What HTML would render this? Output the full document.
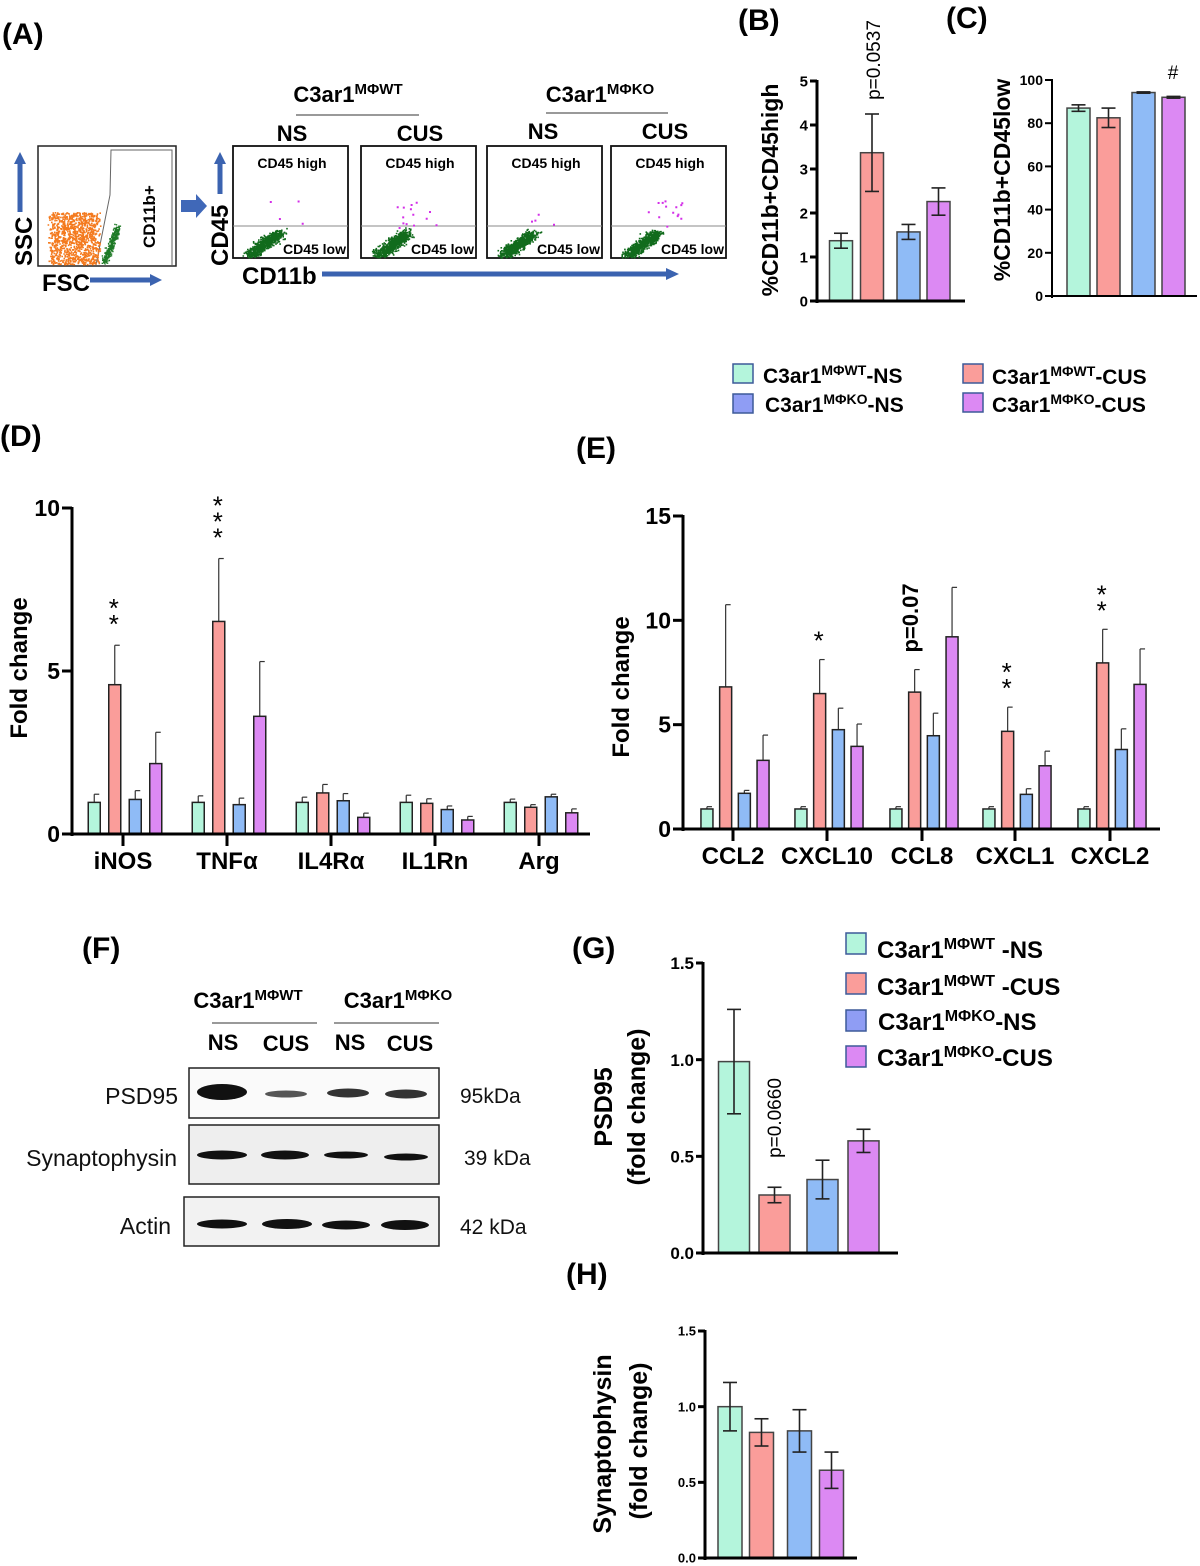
<!DOCTYPE html>
<html><head><meta charset="utf-8">
<style>
html,body{margin:0;padding:0;background:#fff;}
svg{display:block;font-family:"Liberation Sans",sans-serif;}
.b{font-weight:bold;}
</style></head>
<body>
<svg id="fig" width="1200" height="1566" viewBox="0 0 1200 1566" xmlns="http://www.w3.org/2000/svg">
<g font-weight="bold" font-size="30" fill="#000">
<text x="2" y="44">(A)</text>
<text x="738" y="30">(B)</text>
<text x="946" y="28">(C)</text>
<text x="0" y="446">(D)</text>
<text x="576" y="458">(E)</text>
<text x="82" y="958">(F)</text>
<text x="572" y="958">(G)</text>
<text x="566" y="1284">(H)</text>
</g>

<g id="panelA">
<rect x="38" y="146" width="138" height="120" fill="#fff" stroke="#222" stroke-width="1.5"/>
<polyline points="96,265 110,195 111,150 172,150 172,265" fill="none" stroke="#666" stroke-width="1"/>
<g id="orange"></g>
<g id="greenA"></g>
<text transform="translate(155,248) rotate(-90)" font-size="17" class="b">CD11b+</text>
<text transform="translate(32,266) rotate(-90)" font-size="24" class="b">SSC</text>
<line x1="20" y1="212" x2="20" y2="162" stroke="#3b63b0" stroke-width="5"/>
<polygon points="14,164 26,164 20,152" fill="#3b63b0"/>
<text x="42" y="291" font-size="24" class="b">FSC</text>
<line x1="90" y1="280" x2="152" y2="280" stroke="#3b63b0" stroke-width="5"/>
<polygon points="150,274 150,286 162,280" fill="#3b63b0"/>
<polygon points="181,200 196,200 196,194 207,206 196,218 196,212 181,212" fill="#4068b8"/>
<text transform="translate(228,266) rotate(-90)" font-size="24" class="b">CD45</text>
<line x1="220" y1="194" x2="220" y2="162" stroke="#3b63b0" stroke-width="5"/>
<polygon points="214,164 226,164 220,152" fill="#3b63b0"/>
<text x="242" y="284" font-size="24" class="b">CD11b</text>
<line x1="322" y1="274" x2="668" y2="274" stroke="#3b63b0" stroke-width="5"/>
<polygon points="666,268 666,280 679,274" fill="#3b63b0"/>
<g font-size="22" class="b" text-anchor="middle">
<text x="348" y="102">C3ar1<tspan font-size="15" dy="-8">MΦWT</tspan></text>
<text x="600" y="102">C3ar1<tspan font-size="15" dy="-8">MΦKO</tspan></text>
<text x="292" y="141">NS</text>
<text x="420" y="141">CUS</text>
<text x="543" y="139">NS</text>
<text x="665" y="139">CUS</text>
</g>
<line x1="296" y1="115" x2="419" y2="115" stroke="#333" stroke-width="1"/>
<line x1="546" y1="113" x2="668" y2="113" stroke="#333" stroke-width="1"/>
<g id="cdBoxes"></g>
</g>

<g id="legendTop" font-size="21" class="b">
<rect x="733" y="364" width="20" height="19" fill="#b4f5dc" stroke="#3d5a99" stroke-width="1.5"/>
<text x="763" y="383">C3ar1<tspan font-size="14" dy="-8">MΦWT</tspan><tspan dy="8">-NS</tspan></text>
<rect x="963" y="364" width="20" height="19" fill="#fa9d9a" stroke="#3d5a99" stroke-width="1.5"/>
<text x="992" y="384">C3ar1<tspan font-size="14" dy="-8">MΦWT</tspan><tspan dy="8">-CUS</tspan></text>
<rect x="733" y="394" width="20" height="19" fill="#8f9df4" stroke="#3d5a99" stroke-width="1.5"/>
<text x="765" y="412">C3ar1<tspan font-size="14" dy="-8">MΦKO</tspan><tspan dy="8">-NS</tspan></text>
<rect x="963" y="393" width="20" height="19" fill="#dc89f3" stroke="#3d5a99" stroke-width="1.5"/>
<text x="992" y="412">C3ar1<tspan font-size="14" dy="-8">MΦKO</tspan><tspan dy="8">-CUS</tspan></text>
</g>

<g font-size="24" class="b">
<rect x="846" y="933" width="20" height="21" fill="#b4f5dc" stroke="#3d5a99" stroke-width="1.5"/>
<text x="877" y="958">C3ar1<tspan font-size="16" dy="-9">MΦWT</tspan><tspan dy="9"> -NS</tspan></text>
<rect x="846" y="973" width="20" height="21" fill="#fa9d9a" stroke="#3d5a99" stroke-width="1.5"/>
<text x="877" y="995">C3ar1<tspan font-size="16" dy="-9">MΦWT</tspan><tspan dy="9"> -CUS</tspan></text>
<rect x="846" y="1010" width="20" height="21" fill="#8f9df4" stroke="#3d5a99" stroke-width="1.5"/>
<text x="878" y="1030">C3ar1<tspan font-size="16" dy="-9">MΦKO</tspan><tspan dy="9">-NS</tspan></text>
<rect x="846" y="1046" width="20" height="21" fill="#dc89f3" stroke="#3d5a99" stroke-width="1.5"/>
<text x="877" y="1066">C3ar1<tspan font-size="16" dy="-9">MΦKO</tspan><tspan dy="9">-CUS</tspan></text>
</g>

<g id="panelF">
<g font-size="22" class="b" text-anchor="middle">
<text x="248" y="1008">C3ar1<tspan font-size="15" dy="-8">MΦWT</tspan></text>
<text x="398" y="1008">C3ar1<tspan font-size="15" dy="-8">MΦKO</tspan></text>
<text x="223" y="1050">NS</text>
<text x="286" y="1051">CUS</text>
<text x="350" y="1050">NS</text>
<text x="410" y="1051">CUS</text>
</g>
<line x1="212" y1="1023" x2="317" y2="1023" stroke="#333"/>
<line x1="334" y1="1023" x2="439" y2="1023" stroke="#333"/>
<rect x="189" y="1068" width="250" height="50" fill="#fafafa" stroke="#222" stroke-width="1.5"/>
<rect x="189" y="1125" width="250" height="59" fill="#eeeeee" stroke="#222" stroke-width="1.5"/>
<rect x="184" y="1197" width="255" height="49" fill="#f2f2f2" stroke="#222" stroke-width="1.5"/>
<g fill="#111">
<ellipse cx="222" cy="1092" rx="25" ry="8"/>
<ellipse cx="286" cy="1094" rx="21" ry="3.5" fill="#555"/>
<ellipse cx="348" cy="1093" rx="21" ry="4.5" fill="#333"/>
<ellipse cx="406" cy="1094" rx="21" ry="4.5" fill="#333"/>
<ellipse cx="222" cy="1155" rx="25" ry="4.5"/>
<ellipse cx="285" cy="1155" rx="24" ry="4.5"/>
<ellipse cx="346" cy="1155" rx="22" ry="3.5"/>
<ellipse cx="406" cy="1157" rx="22" ry="3.5"/>
<ellipse cx="222" cy="1224" rx="25" ry="4.5"/>
<ellipse cx="287" cy="1224" rx="25" ry="5"/>
<ellipse cx="346" cy="1225" rx="24" ry="4.5"/>
<ellipse cx="405" cy="1225" rx="24" ry="5"/>
</g>
<g font-size="23" fill="#111">
<text x="178" y="1104" text-anchor="end">PSD95</text>
<text x="177" y="1166" text-anchor="end">Synaptophysin</text>
<text x="171" y="1234" text-anchor="end">Actin</text>
<text x="460" y="1103" font-size="21">95kDa</text>
<text x="464" y="1165" font-size="21">39 kDa</text>
<text x="460" y="1234" font-size="21">42 kDa</text>
</g>
</g>

<g id="charts"></g>
</svg>

<script>
const groups = ["C3ar1MΦWT-NS","C3ar1MΦWT-CUS","C3ar1MΦKO-NS","C3ar1MΦKO-CUS"];
const colors = ["#b4f5dc","#fa9d9a","#8fbbf6","#dc89f3"];

const bTicks = [0,1,2,3,4,5];
const bValues = [1.37, 3.37, 1.57, 2.26];
const bErrors = [0.17, 0.88, 0.17, 0.31];
const cTicks = [0,20,40,60,80,100];
const cValues = [87.0, 82.5, 94.2, 92.0];
const cErrors = [1.5, 4.5, 0.3, 0.4];
const dCategories = ["iNOS","TNFα","IL4Rα","IL1Rn","Arg"];
const dTicks = [0,5,10];
const dWtNs  = [0.97, 0.97, 0.97, 0.97, 0.97];
const dWtCus = [4.58, 6.52, 1.26, 0.94, 0.82];
const dKoNs  = [1.06, 0.90, 1.02, 0.75, 1.14];
const dKoCus = [2.16, 3.61, 0.51, 0.43, 0.65];
const dErrWtNs  = [0.25, 0.20, 0.16, 0.22, 0.10];
const dErrWtCus = [1.21, 1.93, 0.26, 0.14, 0.08];
const dErrKoNs  = [0.27, 0.20, 0.22, 0.11, 0.08];
const dErrKoCus = [0.96, 1.68, 0.13, 0.11, 0.12];
const dStars = ["**","***","","",""];
const eCategories = ["CCL2","CXCL10","CCL8","CXCL1","CXCL2"];
const eTicks = [0,5,10,15];
const eWtNs  = [0.96, 0.96, 0.96, 0.96, 0.96];
const eWtCus = [6.81, 6.49, 6.56, 4.68, 7.96];
const eKoNs  = [1.71, 4.76, 4.47, 1.66, 3.81];
const eKoCus = [3.29, 3.96, 9.21, 3.03, 6.93];
const eErrWtNs  = [0.11, 0.11, 0.11, 0.11, 0.11];
const eErrWtCus = [3.94, 1.63, 1.08, 1.16, 1.61];
const eErrKoNs  = [0.14, 1.03, 1.08, 0.27, 0.99];
const eErrKoCus = [1.21, 1.07, 2.37, 0.70, 1.70];
const eStars = ["","*","","**","**"];
const gTicks = ["0.0","0.5","1.0","1.5"];
const gValues = [0.99, 0.30, 0.38, 0.58];
const gErrors = [0.27, 0.04, 0.10, 0.06];
const hTicks = ["0.0","0.5","1.0","1.5"];
const hValues = [1.00, 0.83, 0.84, 0.58];
const hErrors = [0.16, 0.09, 0.14, 0.12];

const NS = "http://www.w3.org/2000/svg";
const root = document.getElementById("charts");
function mk(tag, attrs, parent) {
  const el = document.createElementNS(NS, tag);
  for (const k in attrs) el.setAttribute(k, attrs[k]);
  (parent || root).appendChild(el);
  return el;
}
function linScale(d0, d1, r0, r1) { return v => r0 + (v - d0) / (d1 - d0) * (r1 - r0); }

function smallChart(name, ax, y0, ytop, maxV, ticks, vals, errs, center, offsets, bw, axRight, fs, lw) {
  const g = mk("g", {});
  
  
  const y = linScale(0, maxV, y0, ytop);
  ticks.forEach(t => {
    const v = parseFloat(t);
    mk("line", {x1: ax - 7, x2: ax, y1: y(v), y2: y(v), stroke: "#000", "stroke-width": lw}, g);
    const tx = mk("text", {x: ax - 9, y: y(v) + fs * 0.36, "text-anchor": "end", "font-size": fs, "font-weight": "bold"}, g);
    tx.textContent = t;
    
    
  });
  vals.forEach((v, i) => {
    const cx = center + offsets[i];
    const r = mk("rect", {x: cx - bw / 2, y: y(v), width: bw, height: y0 - y(v), fill: colors[i], stroke: "#444", "stroke-width": 1.5}, g);
    
    
    const e = errs[i];
    mk("line", {x1: cx, x2: cx, y1: y(v + e), y2: y(v - e), stroke: "#222", "stroke-width": 1.6}, g);
    mk("line", {x1: cx - 7, x2: cx + 7, y1: y(v + e), y2: y(v + e), stroke: "#222", "stroke-width": 1.6}, g);
    mk("line", {x1: cx - 7, x2: cx + 7, y1: y(v - e), y2: y(v - e), stroke: "#222", "stroke-width": 1.6}, g);
  });
  mk("line", {x1: ax, x2: ax, y1: ytop - 1, y2: y0 + 2, stroke: "#000", "stroke-width": lw}, g);
  mk("line", {x1: ax - 7, x2: axRight, y1: y0, y2: y0, stroke: "#000", "stroke-width": lw}, g);
  return {g, y};
}

function catChart(name, ax, y0, ytop, maxV, ticks, cats, series, errsArr, centers, pitch, bw, axRight, stars, starDy) {
  const g = mk("g", {});
  
  
  const y = linScale(0, maxV, y0, ytop);
  ticks.forEach(t => {
    mk("line", {x1: ax - 10, x2: ax, y1: y(t), y2: y(t), stroke: "#000", "stroke-width": 3}, g);
    const tx = mk("text", {x: ax - 12, y: y(t) + 8, "text-anchor": "end", "font-size": 23, "font-weight": "bold"}, g);
    tx.textContent = t;
    
    
  });
  cats.forEach((c, ci) => {
    const cc = centers[ci];
    series.forEach((s, si) => {
      const v = s[ci], e = errsArr[si][ci];
      const bx = cc + (si - 1.5) * pitch;
      mk("line", {x1: bx, x2: bx, y1: y(v), y2: y(v + e), stroke: "#333", "stroke-width": 1.2}, g);
      mk("line", {x1: bx, x2: bx + 5, y1: y(v + e), y2: y(v + e), stroke: "#333", "stroke-width": 1.2}, g);
      const r = mk("rect", {x: bx - bw / 2, y: y(v), width: bw, height: y0 - y(v), fill: colors[si], stroke: "#222", "stroke-width": 1.5}, g);
      
      
    });
    mk("line", {x1: cc - 2, x2: cc - 2, y1: y0, y2: y0 + 12, stroke: "#000", "stroke-width": 3}, g);
    const lab = mk("text", {x: cc - 2, y: y0 + 35, "text-anchor": "middle", "font-size": 24, "font-weight": "bold"}, g);
    lab.textContent = c;
    
    
    if (stars[ci]) {
      const top = series[1][ci] + errsArr[1][ci];
      const n = stars[ci].length;
      for (let k = 0; k < n; k++) {
        const st = mk("text", {x: cc - pitch / 2 - 1, y: y(top) - starDy - k * 16, "text-anchor": "middle", "font-size": 26}, g);
        st.textContent = "*";
        
        
      }
    }
  });
  mk("line", {x1: ax, x2: ax, y1: ytop - 1, y2: y0 + 2, stroke: "#000", "stroke-width": 3}, g);
  mk("line", {x1: ax, x2: axRight, y1: y0, y2: y0, stroke: "#000", "stroke-width": 3}, g);
  return {g, y};
}

function rotText(x, y, str, fs, bold, name) {
  const t = mk("text", {transform: "translate(" + x + "," + y + ") rotate(-90)", "text-anchor": "middle", "font-size": fs, "font-weight": bold ? "bold" : "normal"});
  t.textContent = str;
  
  
  return t;
}

smallChart("chart-b", 817, 301, 81, 5, bTicks.map(String), bValues, bErrors, 890, [-49,-18,18.5,48.5], 23, 965, 15, 3);
rotText(778, 190, "%CD11b+CD45high", 23, true, "y-axis-title-b");
rotText(880, 60, "p=0.0537", 19, false, "pvalue-b");
smallChart("chart-c", 1052, 296, 80, 100, cTicks.map(String), cValues, cErrors, 1126, [-47.5,-17.5,17.5,47.5], 23, 1197, 14, 2);
rotText(1010, 180, "%CD11b+CD45low", 23, true, "y-axis-title-c");
const hash = mk("text", {x: 1173, y: 79, "text-anchor": "middle", "font-size": 19});
hash.textContent = "#";


catChart("chart-d", 72, 834, 508, 10, dTicks, dCategories, [dWtNs, dWtCus, dKoNs, dKoCus], [dErrWtNs, dErrWtCus, dErrKoNs, dErrKoCus], [125,229,333,437,541], 20.5, 12, 590, dStars, 12);
rotText(27, 668, "Fold change", 24, true, "y-axis-title-d");
catChart("chart-e", 683, 829, 516, 15, eTicks, eCategories, [eWtNs, eWtCus, eKoNs, eKoCus], [eErrWtNs, eErrWtCus, eErrKoNs, eErrKoCus], [735,829,924,1017,1112], 18.7, 12, 1160, eStars, 10);
rotText(629, 687, "Fold change", 24, true, "y-axis-title-e");
rotText(918, 618, "p=0.07", 22, true, "pvalue-e");
smallChart("chart-g", 703, 1253, 963, 1.5, gTicks, gValues, gErrors, 799, [-65,-24.5,23.5,64.5], 31, 898, 17, 3);
rotText(612, 1107, "PSD95", 25, true, "y-axis-title-g");
rotText(645, 1107, "(fold change)", 25, true, "y-axis-title-g2");
rotText(781, 1118, "p=0.0660", 19, false, "pvalue-g");
smallChart("chart-h", 705, 1558, 1331, 1.5, hTicks, hValues, hErrors, 781, [-51,-19.5,18.5,50.5], 24, 857, 13, 3);
rotText(611, 1444, "Synaptophysin", 25, true, "y-axis-title-h");
rotText(647, 1441, "(fold change)", 25, true, "y-axis-title-h2");

// decorative flow cytometry dots
let seed = 7;
function rnd() { seed = (seed * 16807) % 2147483647; return seed / 2147483647; }
function gauss() { return (rnd() + rnd() + rnd() - 1.5) / 1.5; }
const og = document.getElementById("orange");
let path = "";
for (let i = 0; i < 1100; i++) { const x = 50 + rnd() * 48 + gauss() * 4, y = 212 + rnd() * 52; path += "M" + x.toFixed(1) + "," + y.toFixed(1) + "h1.6v1.6h-1.6z"; }
mk("path", {d: path, fill: "#f47a1e"}, og);
path = "";
for (let i = 0; i < 320; i++) { const t = rnd(); const x = 104 + t * 14 + gauss() * 5, y = 262 - t * 36 + gauss() * 5; path += "M" + x.toFixed(1) + "," + y.toFixed(1) + "h1.4v1.4h-1.4z"; }
mk("path", {d: path, fill: "#1e7a26"}, document.getElementById("greenA"));
const boxes = document.getElementById("cdBoxes");
[[233, 4], [361, 14], [487, 4], [611, 14]].forEach((b, bi) => {
  const bx = b[0];
  const r = mk("rect", {x: bx, y: 146, width: 115, height: 112, fill: "#fff", stroke: "#111", "stroke-width": 1.8}, boxes);
  
  
  mk("line", {x1: bx, x2: bx + 115, y1: 226, y2: 226, stroke: "#888", "stroke-width": 1}, boxes);
  let p = "";
  for (let i = 0; i < 700; i++) { const t = rnd(); const x = bx + 16 + t * 30 + gauss() * 10, y = 255 - t * 22 + gauss() * 8; if (y < 257 && y > 226 && x > bx + 2) p += "M" + x.toFixed(1) + "," + y.toFixed(1) + "h1.6v1.6h-1.6z"; }
  mk("path", {d: p, fill: "#116b1c"}, boxes);
  p = "";
  for (let i = 0; i < b[1]; i++) { const x = bx + 35 + rnd() * 40, y = 200 + rnd() * 28; p += "M" + x.toFixed(1) + "," + y.toFixed(1) + "h2v2h-2z"; }
  mk("path", {d: p, fill: "#d32ee8"}, boxes);
  const hi = mk("text", {x: bx + 59, y: 168, "text-anchor": "middle", "font-size": 14, "font-weight": "bold"}, boxes);
  hi.textContent = "CD45 high";
  
  
  const lo = mk("text", {x: bx + 113, y: 254, "text-anchor": "end", "font-size": 14, "font-weight": "bold"}, boxes);
  lo.textContent = "CD45 low";
  
  
});
</script>
</body></html>
